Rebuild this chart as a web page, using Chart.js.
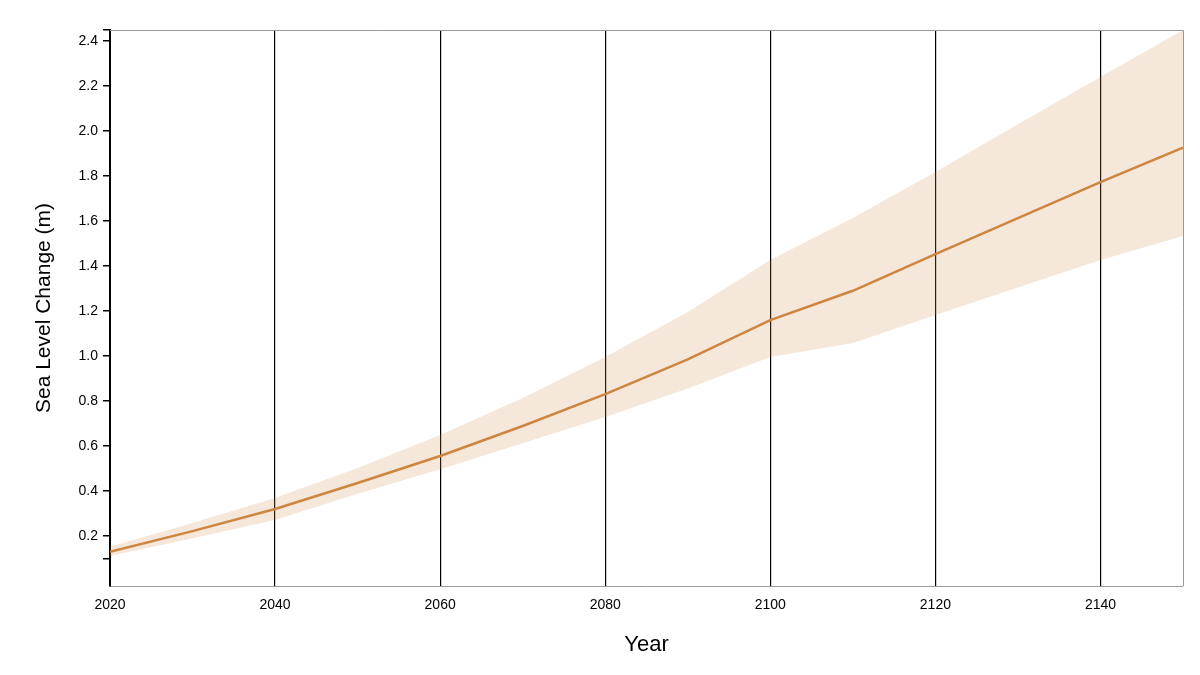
<!DOCTYPE html>
<html>
<head>
<meta charset="utf-8">
<script src="https://cdn.jsdelivr.net/npm/chart.js@4/dist/chart.umd.min.js"></script>
<style>
  html, body { margin: 0; padding: 0; background: #fff; }
  #wrap { width: 1200px; height: 675px; }
</style>
</head>
<body>
<div id="wrap"><canvas id="seaChart" width="1200" height="675"></canvas></div>
<script>
// values
const years = [2020, 2030, 2040, 2050, 2060, 2070, 2080, 2090, 2100, 2110, 2120, 2130, 2140, 2150];
const meanRise = [0.13, 0.222, 0.32, 0.436, 0.556, 0.689, 0.831, 0.985, 1.16, 1.29, 1.453, 1.613, 1.773, 1.926];
const lowerRise = [0.111, 0.19, 0.271, 0.388, 0.497, 0.612, 0.729, 0.856, 0.996, 1.058, 1.182, 1.305, 1.427, 1.533];
const upperRise = [0.152, 0.258, 0.369, 0.502, 0.649, 0.813, 0.996, 1.196, 1.427, 1.613, 1.818, 2.03, 2.24, 2.449];
const xTicks = [2020, 2040, 2060, 2080, 2100, 2120, 2140];
const yTicks = [0.1, 0.2, 0.4, 0.6, 0.8, 1.0, 1.2, 1.4, 1.6, 1.8, 2.0, 2.2, 2.4, 2.449];
const yLabelled = [0.2, 0.4, 0.6, 0.8, 1.0, 1.2, 1.4, 1.6, 1.8, 2.0, 2.2, 2.4];

const lineColor = '#cd853f';
const bandColor = 'rgba(205, 133, 63, 0.2)';
const fontFamily = '"Liberation Sans", Arial, Helvetica, sans-serif';

function toPoints(vals) {
    return years.map((y, i) => ({ x: y, y: vals[i] }));
}

// grey frame on top and right of the plot area
const framePlugin = {
    id: 'frame',
    afterDatasetsDraw(chart) {
        const { ctx, chartArea } = chart;
        ctx.save();
        ctx.strokeStyle = '#999';
        ctx.lineWidth = 1;
        ctx.beginPath();
        ctx.moveTo(chartArea.left, chartArea.top + 0.5);
        ctx.lineTo(chartArea.right + 0.5, chartArea.top + 0.5);
        ctx.lineTo(chartArea.right + 0.5, chartArea.bottom);
        ctx.stroke();
        ctx.restore();
    }
};

const ctx = document.getElementById('seaChart').getContext('2d');
const seaChart = new Chart(ctx, {
    type: 'line',
    data: {
        datasets: [
            {
                label: 'Upper',
                data: toPoints(upperRise),
                borderWidth: 0,
                pointRadius: 0,
                backgroundColor: bandColor,
                fill: '+1',
                tension: 0,
                order: 2
            },
            {
                label: 'Lower',
                data: toPoints(lowerRise),
                borderWidth: 0,
                pointRadius: 0,
                backgroundColor: bandColor,
                fill: false,
                tension: 0,
                order: 2
            },
            {
                label: 'Sea level change',
                data: toPoints(meanRise),
                borderColor: lineColor,
                borderWidth: 2.5,
                pointRadius: 0,
                fill: false,
                tension: 0,
                order: 1
            }
        ]
    },
    options: {
        responsive: false,
        animation: false,
        layout: { padding: { left: 0, top: 30, right: 17, bottom: 0 } },
        plugins: {
            legend: { display: false },
            tooltip: { enabled: false }
        },
        scales: {
            x: {
                type: 'linear',
                min: 2020,
                max: 2150,
                afterBuildTicks: (scale) => { scale.ticks = xTicks.map(v => ({ value: v })); },
                afterFit: (scale) => { scale.height = 89; },
                border: { display: true, color: '#999', width: 1 },
                grid: { color: '#000', lineWidth: 1.2, drawTicks: false },
                ticks: {
                    color: '#000',
                    padding: 11,
                    maxRotation: 0,
                    font: { family: fontFamily, size: 14 },
                    callback: (v) => String(v)
                },
                title: {
                    display: true,
                    text: 'Year',
                    color: '#000',
                    font: { family: fontFamily, size: 22 },
                    padding: { top: 0, bottom: 17 }
                }
            },
            y: {
                type: 'linear',
                min: -0.022,
                max: 2.449,
                afterBuildTicks: (scale) => { scale.ticks = yTicks.map(v => ({ value: v })); },
                afterFit: (scale) => { scale.width = 110; },
                border: { display: true, color: '#000', width: 2 },
                grid: { drawOnChartArea: false, color: '#000', tickLength: 7, lineWidth: 1.5 },
                ticks: {
                    color: '#000',
                    padding: 5,
                    font: { family: fontFamily, size: 14 },
                    callback: (v) => yLabelled.some(t => Math.abs(t - v) < 1e-6) ? v.toFixed(1) : ''
                },
                title: {
                    display: true,
                    text: 'Sea Level Change (m)',
                    color: '#000',
                    font: { family: fontFamily, size: 21 },
                    padding: { top: 32, bottom: 0 }
                }
            }
        }
    },
    plugins: [framePlugin]
});
</script>
</body>
</html>
